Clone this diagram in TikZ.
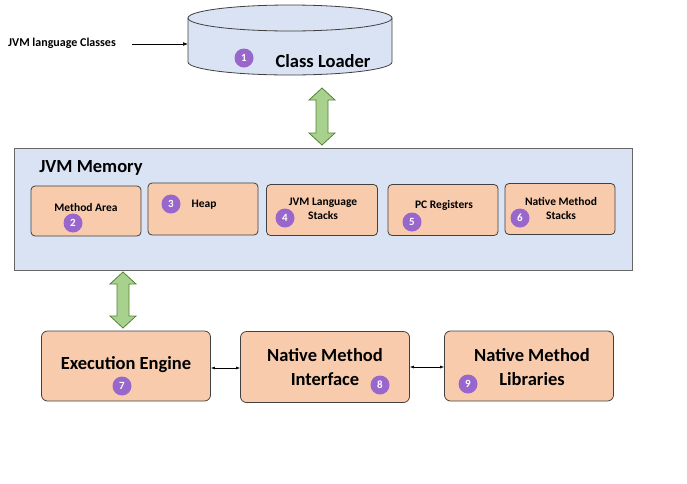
\documentclass[tikz,border=0pt]{standalone}
\usepackage{fontspec}
\setmainfont{Carlito}
\usetikzlibrary{shapes.geometric,arrows.meta}
\definecolor{lblue}{HTML}{DAE3F3}
\definecolor{peach}{HTML}{F8CBAD}
\definecolor{purp}{HTML}{9966CC}
\definecolor{gfill}{HTML}{A9D18E}
\definecolor{gline}{HTML}{548235}
\tikzset{
  x=1pt,y=-1pt,
  sbox/.style={draw=black!75,fill=peach,rounded corners=4pt,line width=0.8pt},
  bbox/.style={draw=black!75,fill=peach,rounded corners=6pt,line width=0.8pt},
  stxt/.style={font=\bfseries\fontsize{11.5}{14}\selectfont,align=center},
  btxt/.style={font=\bfseries\fontsize{18.5}{24}\selectfont,align=center},
  num/.style={circle,fill=purp,text=white,inner sep=0pt,minimum size=19pt,font=\bfseries\fontsize{11}{12}\selectfont},
  garrow/.style={draw=gline,fill=gfill,line width=0.8pt},
  small/.style={{Latex[length=4pt]}-{Latex[length=4pt]},black,line width=0.6pt}
}
\newcommand{\vdarrow}[3]{% x, ytop, ybot
  \path[garrow] (#1-6,#2+12) -- (#1-13,#2+12) -- (#1,#2) -- (#1+13,#2+12) -- (#1+6,#2+12)
   -- (#1+6,#3-12) -- (#1+13,#3-12) -- (#1,#3) -- (#1-13,#3-12) -- (#1-6,#3-12) -- cycle;}
\begin{document}
\begin{tikzpicture}
\useasboundingbox (0,0) rectangle (687,483);
% class loader cylinder
\path[draw=black!75,fill=lblue,line width=0.8pt] (188,18) -- (188,62) arc[start angle=180,end angle=0,x radius=102,y radius=13] -- (392,18) -- cycle;
\path[draw=black!75,fill=lblue,line width=0.8pt] (290,18) ellipse[x radius=102,y radius=13];
\node[btxt] (cl) at (323,61) {Class Loader};
\node[num] (n1) at (244,58) {1};
\coordinate (clw) at (188,44);
\node[font=\bfseries\fontsize{12}{14}\selectfont] (jlc) at (62,43) {JVM language Classes};
\draw[-{Latex[length=5pt]},line width=0.6pt] (132,44) -- (clw);
\vdarrow{322}{88}{145}
% memory
\node[draw=black!60,fill=lblue,line width=0.8pt,minimum width=618pt,minimum height=122pt,inner sep=0pt] (mem) at (323,209) {};
\node[btxt] (memt) at (91,168) {JVM Memory};
\node[sbox,minimum width=110pt,minimum height=50pt] (ma) at (86,211) {};
\node[stxt] at (86,207) {Method Area};
\node[num] at (73,223) {2};
\node[sbox,minimum width=110pt,minimum height=52pt] (hp) at (203,209) {};
\node[stxt] at (204,205) {Heap};
\node[num] at (171,204) {3};
\node[sbox,minimum width=111pt,minimum height=51pt] (js) at (322,210) {};
\node[stxt] at (323,209) {JVM Language\\Stacks};
\node[num] at (285,218) {4};
\node[sbox,minimum width=110pt,minimum height=51pt] (pc) at (443,210) {};
\node[stxt] at (444,205) {PC Registers};
\node[num] at (412,222) {5};
\node[sbox,minimum width=110pt,minimum height=51pt] (nms) at (560,209) {};
\node[stxt] at (561,208) {Native Method\\Stacks};
\node[num] at (520,218) {6};
\vdarrow{123}{272}{328}
% bottom
\node[bbox,minimum width=169pt,minimum height=70pt] (ee) at (126,366) {};
\node[btxt] at (126,365) {Execution Engine};
\node[num] at (122,386) {7};
\node[bbox,minimum width=169pt,minimum height=71pt] (nmi) at (325,367) {};
\node[btxt] at (325,367) {Native Method\\Interface\hspace{28pt}};
\node[num] at (380,385) {8};
\node[bbox,minimum width=169pt,minimum height=70pt] (nml) at (529,366) {};
\node[btxt] at (532,367) {Native Method\\Libraries};
\node[num] at (468,384) {9};
\draw[small] (ee.east |- 0,368) -- (nmi.west |- 0,368);
\draw[small] (nmi.east |- 0,367) -- (nml.west |- 0,367);
\end{tikzpicture}
\end{document}
